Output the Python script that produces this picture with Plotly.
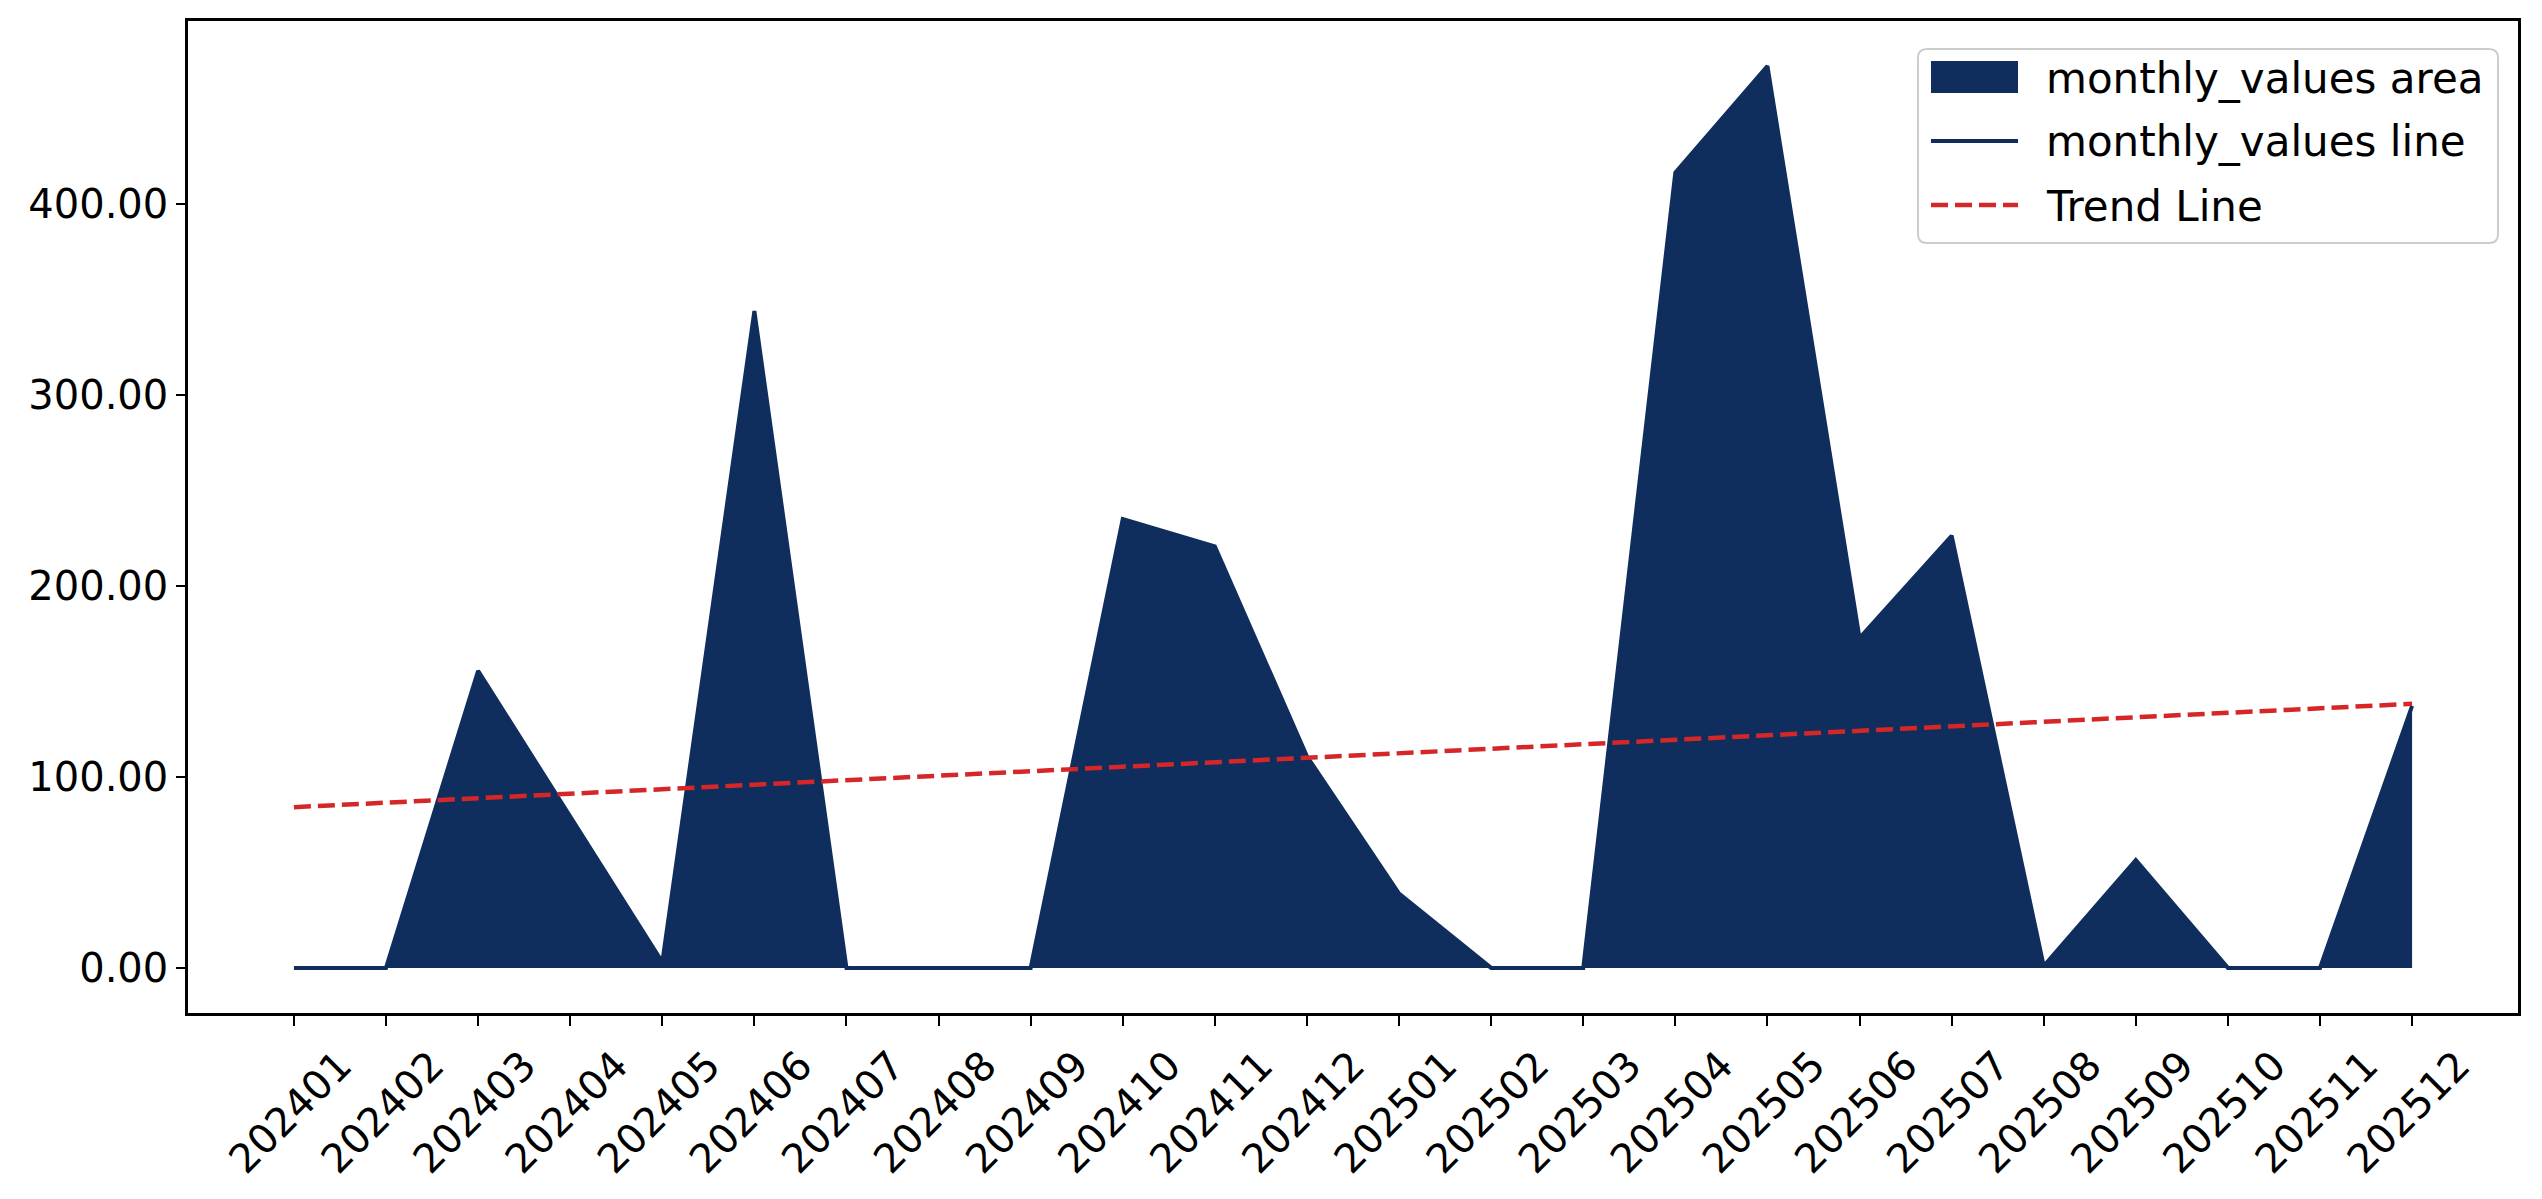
import numpy as np
import plotly.graph_objects as go

months = ["202401", "202402", "202403", "202404", "202405", "202406",
          "202407", "202408", "202409", "202410", "202411", "202412",
          "202501", "202502", "202503", "202504", "202505", "202506",
          "202507", "202508", "202509", "202510", "202511", "202512"]
monthly_values = [0, 0, 155.6, 79, 3, 344, 0, 0, 0, 235, 220.7, 110.8,
                  38.9, 0, 0, 416.4, 472.2, 172.7, 226.3, 1, 56.5, 0, 0, 137.2]
y_ticks = [0, 100, 200, 300, 400]
legend_labels = ["monthly_values area", "monthly_values line", "Trend Line"]

NAVY = "#0f2d5d"
RED = "#d62728"
FONT = "DejaVu Sans"

W, H = 2542, 1199
ML, MR, MT, MB = 188, 24, 21, 186
PW = W - ML - MR
PH = H - MT - MB


def px(x):
    return (x - ML) / PW


def py(y):
    return (H - MB - y) / PH


idx = np.arange(len(months))
coef = np.polyfit(idx, monthly_values, 1)
trend = np.polyval(coef, idx)

fig = go.Figure()
fig.add_trace(go.Scatter(
    x=months, y=monthly_values, mode="lines", fill="tozeroy",
    fillcolor=NAVY, line=dict(color=NAVY, width=0),
    name=legend_labels[0], showlegend=False))
fig.add_trace(go.Scatter(
    x=months, y=monthly_values, mode="lines",
    line=dict(color=NAVY, width=4),
    name=legend_labels[1], showlegend=False))
fig.add_trace(go.Scatter(
    x=months, y=trend, mode="lines",
    line=dict(color=RED, width=4.5, dash="17px,7px"),
    name=legend_labels[2], showlegend=False))

vmax = max(monthly_values)
vmin = min(monthly_values)
pad = (vmax - vmin) * 0.05
n = len(months)

# ---- custom legend (matplotlib-like) ----
bx0, bx1, by0, by1, r = 1918, 2498, 49, 243, 9
rx, ry = r / PW, r / PH
X0, X1, Y0, Y1 = px(bx0), px(bx1), py(by1), py(by0)
box_path = (
    f"M{X0 + rx},{Y0} L{X1 - rx},{Y0} Q{X1},{Y0} {X1},{Y0 + ry} "
    f"L{X1},{Y1 - ry} Q{X1},{Y1} {X1 - rx},{Y1} "
    f"L{X0 + rx},{Y1} Q{X0},{Y1} {X0},{Y1 - ry} "
    f"L{X0},{Y0 + ry} Q{X0},{Y0} {X0 + rx},{Y0} Z"
)
shapes = [
    dict(type="path", path=box_path, xref="paper", yref="paper",
         fillcolor="rgba(255,255,255,0.8)", line=dict(color="#cccccc", width=2),
         layer="above"),
    dict(type="rect", xref="paper", yref="paper",
         x0=px(1931), x1=px(2018), y0=py(93), y1=py(61),
         fillcolor=NAVY, line=dict(width=0), layer="above"),
    dict(type="line", xref="paper", yref="paper",
         x0=px(1931), x1=px(2018), y0=py(141), y1=py(141),
         line=dict(color=NAVY, width=4), layer="above"),
    dict(type="line", xref="paper", yref="paper",
         x0=px(1931), x1=px(2018), y0=py(205), y1=py(205),
         line=dict(color=RED, width=4.5, dash="17px,7px"), layer="above"),
]
row_y = [78, 142, 206]
annotations = [
    dict(text=lab, x=px(2044), y=py(yy), xref="paper", yref="paper",
         xanchor="left", yanchor="middle", showarrow=False,
         font=dict(family=FONT, size=42, color="black"))
    for lab, yy in zip(legend_labels, row_y)
]

fig.update_layout(
    width=W, height=H,
    margin=dict(l=ML, r=MR, t=MT, b=MB),
    paper_bgcolor="white", plot_bgcolor="white",
    font=dict(family=FONT, size=40, color="black"),
    showlegend=False,
    shapes=shapes,
    annotations=annotations,
    xaxis=dict(
        type="category",
        range=[-0.05 * (n - 1), (n - 1) * 1.05],
        showgrid=False, zeroline=False,
        showline=True, linecolor="black", linewidth=2.5, mirror=True,
        ticks="outside", ticklen=10, tickwidth=2, tickcolor="black",
        tickangle=-45, ticklabelshift=46, ticklabelstandoff=0,
        tickfont=dict(family=FONT, size=40, color="black"),
    ),
    yaxis=dict(
        range=[vmin - pad, vmax + pad],
        tickvals=y_ticks, tickformat=".2f",
        showgrid=False, zeroline=False,
        showline=True, linecolor="black", linewidth=2.5, mirror=True,
        ticks="outside", ticklen=9, tickwidth=2, tickcolor="black",
        tickfont=dict(family=FONT, size=40, color="black"),
    ),
)

fig.write_html("out.html")
